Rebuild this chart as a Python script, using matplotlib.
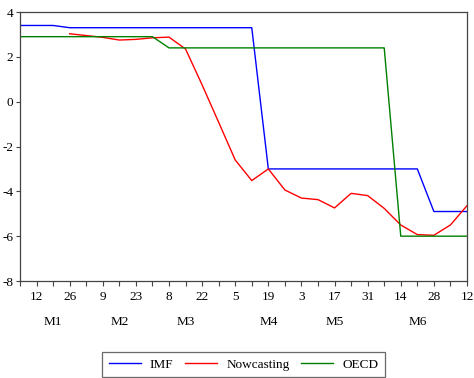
import numpy as np
import matplotlib
matplotlib.use("Agg")
import matplotlib.pyplot as plt
import matplotlib.transforms as mtransforms

plt.rcParams['font.family'] = ['Liberation Serif', 'DejaVu Serif']

# weekly observations, index 0..27
day_labels = ["12", "26", "9", "23", "8", "22", "5", "19", "3", "17", "31", "14", "28", "12"]
day_positions = [1, 3, 5, 7, 9, 11, 13, 15, 17, 19, 21, 23, 25, 27]
month_labels = ["M1", "M2", "M3", "M4", "M5", "M6"]
month_positions = [2, 6, 10, 15, 19, 24]

imf = [3.4, 3.4, 3.4] + [3.3] * 12 + [-3.0] * 10 + [-4.9] * 3
oecd = [2.9] * 9 + [2.4] * 14 + [-6.0] * 5
nowcasting = [np.nan, np.nan, np.nan, 3.03, 2.95, 2.87, 2.75, 2.78, 2.85, 2.88,
              2.35, 0.75, -0.92, -2.6, -3.52, -3.0, -3.94, -4.3, -4.37, -4.74,
              -4.09, -4.19, -4.76, -5.5, -5.93, -5.96, -5.5, -4.64]

x = np.arange(len(imf))

fig = plt.figure(figsize=(4.74, 3.78), dpi=100)
ax = fig.add_axes([0.0422, 0.2566, 0.9430, 0.7116])

ax.plot(x, imf, color="#0000ff", lw=1.0, label="IMF")
ax.plot(x, nowcasting, color="#ff0000", lw=1.0, label="Nowcasting")
ax.plot(x, oecd, color="#008000", lw=1.0, label="OECD")

ax.set_xlim(0, 27)
ax.set_ylim(-8, 4)
ax.set_yticks(np.arange(-8, 5, 2))
ax.set_yticklabels([str(v) for v in range(-8, 5, 2)], fontsize=9.5)
ax.set_xticks(x, minor=True)
ax.set_xticks(day_positions)
ax.set_xticklabels(day_labels, fontsize=9.5)
ax.tick_params(axis="x", which="both", direction="out", length=3.5, width=0.8, pad=4, color="#444444")
ax.tick_params(axis="y", direction="out", length=3, width=0.8, pad=2, color="#444444")
for s in ax.spines.values():
    s.set_color("#444444")
    s.set_linewidth(0.9)

trans = mtransforms.blended_transform_factory(ax.transData, ax.transAxes)
for m, p in zip(month_labels, month_positions):
    ax.text(p, -0.152, m, transform=trans, ha="center", va="center", fontsize=9.5)

leg = fig.legend(loc="upper center", bbox_to_anchor=(0.514, 0.069), ncol=3,
                 fontsize=9.5, frameon=True, fancybox=False, handlelength=2.4,
                 handletextpad=0.7, columnspacing=0.9, borderpad=0.5,
                 borderaxespad=0)
leg.get_frame().set_edgecolor("#444444")
leg.get_frame().set_linewidth(0.9)

fig.savefig("out.png", dpi=100)
